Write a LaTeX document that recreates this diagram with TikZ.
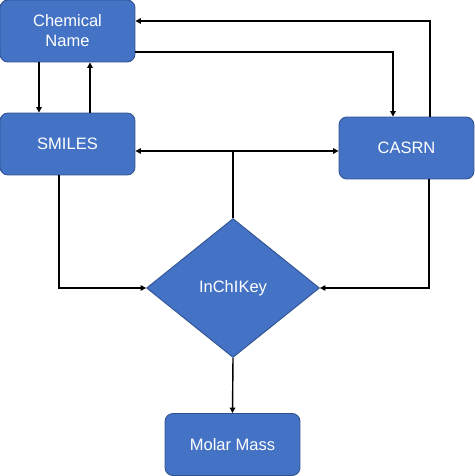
\documentclass[tikz,border=0pt]{standalone}
\usepackage{fontspec}
\setmainfont{Liberation Sans}
\usetikzlibrary{arrows.meta,shapes.geometric}
\definecolor{BoxFill}{HTML}{4472C4}
\definecolor{BoxEdge}{HTML}{2F528F}
\tikzset{
  box/.style={rounded corners=4.5pt, draw=BoxEdge, fill=BoxFill, text=white, line width=0.5pt, minimum width=2.7cm, minimum height=1.24cm, inner sep=1mm, align=center, font=\fontsize{9.4}{11.3}\selectfont},
  decision/.style={diamond, draw=BoxEdge, fill=BoxFill, text=white, line width=0.5pt, minimum width=3.46cm, minimum height=2.78cm, aspect=1.245, inner sep=0pt, font=\fontsize{9.4}{11.3}\selectfont},
  arr/.style={-{Triangle[length=1.1mm,width=1.1mm]}, line width=0.8pt, draw=black}
}
\begin{document}
\begin{tikzpicture}[x=0.02cm,y=-0.02cm]
\useasboundingbox (0,0) rectangle (474,476);
% nodes
\node[box] (name) at (67.5,31) {Chemical\\Name};
\node[box] (smiles) at (67.5,144) {SMILES};
\node[box] (casrn) at (406.5,148) {CASRN};
\node[decision] (key) at (233,288) {InChIKey};
\node[box] (mass) at (232.5,444.5) {Molar Mass};
% name <-> smiles
\draw[arr] (name.south -| 39,0) -- (smiles.north -| 39,0);
\draw[arr] (smiles.north -| 90,0) -- (name.south -| 90,0);
% name <-> casrn
\draw[arr] (name.east |- 0,52) -| (casrn.north -| 393,0);
\draw[arr] (casrn.north -| 430,0) |- (name.east |- 0,21);
% inchikey to smiles and casrn
\coordinate (split) at (233,151);
\draw[line width=0.8pt] (key.north) -- (split);
\draw[arr] (split) -- (smiles.east |- split);
\draw[arr] (split) -- (casrn.west |- split);
% smiles and casrn to inchikey
\draw[arr] (smiles.south -| 59,0) |- (key.west);
\draw[arr] (casrn.south -| 429,0) |- (key.east);
\draw[arr] (key.south) -- (mass.north);
\end{tikzpicture}
\end{document}
